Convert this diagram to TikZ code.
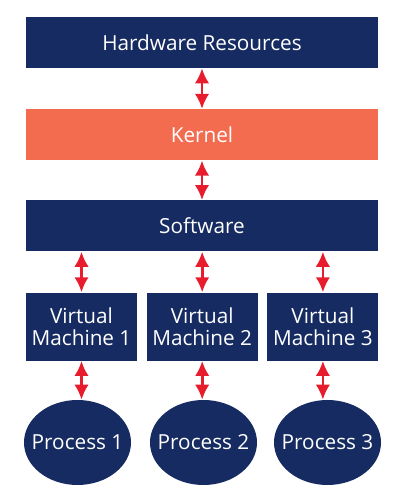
\documentclass[tikz,border=0pt]{standalone}
\usepackage{fontspec}
\setmainfont{Open Sans}
\usetikzlibrary{arrows.meta,positioning,shapes.geometric}
\definecolor{navy}{RGB}{22,43,97}
\definecolor{coral}{RGB}{243,108,79}
\definecolor{arrowred}{RGB}{231,28,44}
\tikzset{
  wide/.style={fill=navy, text=white, minimum width=7.04cm, minimum height=1.02cm, inner sep=0pt},
  vmbox/.style={fill=navy, text=white, minimum width=2.22cm, minimum height=1.36cm, inner sep=0pt, align=center},
  procell/.style={ellipse, fill=navy, text=white, minimum width=2.14cm, minimum height=1.7cm, inner xsep=-6pt, inner ysep=0pt},
  link/.style={{Latex[length=3mm,width=2.9mm]}-{Latex[length=3mm,width=2.9mm]}, line width=1.5pt, arrowred, xshift=-0.03cm}
}
\begin{document}
\begin{tikzpicture}[font=\fontsize{11.8pt}{12.4pt}\selectfont, node distance=0.81cm]
\useasboundingbox (0,0) rectangle (8.06,10.04);
\node[wide] (hw) at (4.04,9.19) {Hardware Resources};
\node[wide, fill=coral, below=of hw] (kernel) {Kernel};
\node[wide, below=0.79cm of kernel] (soft) {Software};
\node[vmbox, below=0.81cm of soft.south west, anchor=north west] (vm1) {Virtual\\Machine 1};
\node[vmbox, right=0.18cm of vm1] (vm2) {Virtual\\Machine 2};
\node[vmbox, right=0.18cm of vm2] (vm3) {Virtual\\Machine 3};
\node[procell] (p1) at (1.55,1.19) {Process 1};
\node[procell] (p2) at (4.07,1.19) {Process 2};
\node[procell] (p3) at (6.55,1.19) {Process 3};
\draw[link] (hw) -- (kernel);
\draw[link] (kernel) -- (soft);
\draw[link] (vm1.north) -- (vm1.north |- soft.south);
\draw[link] (vm2.north) -- (vm2.north |- soft.south);
\draw[link] (vm3.north) -- (vm3.north |- soft.south);
\draw[link] (vm1.south) -- (vm1.south |- p1.north);
\draw[link] (vm2.south) -- (vm2.south |- p2.north);
\draw[link] (vm3.south) -- (vm3.south |- p3.north);
\end{tikzpicture}
\end{document}
